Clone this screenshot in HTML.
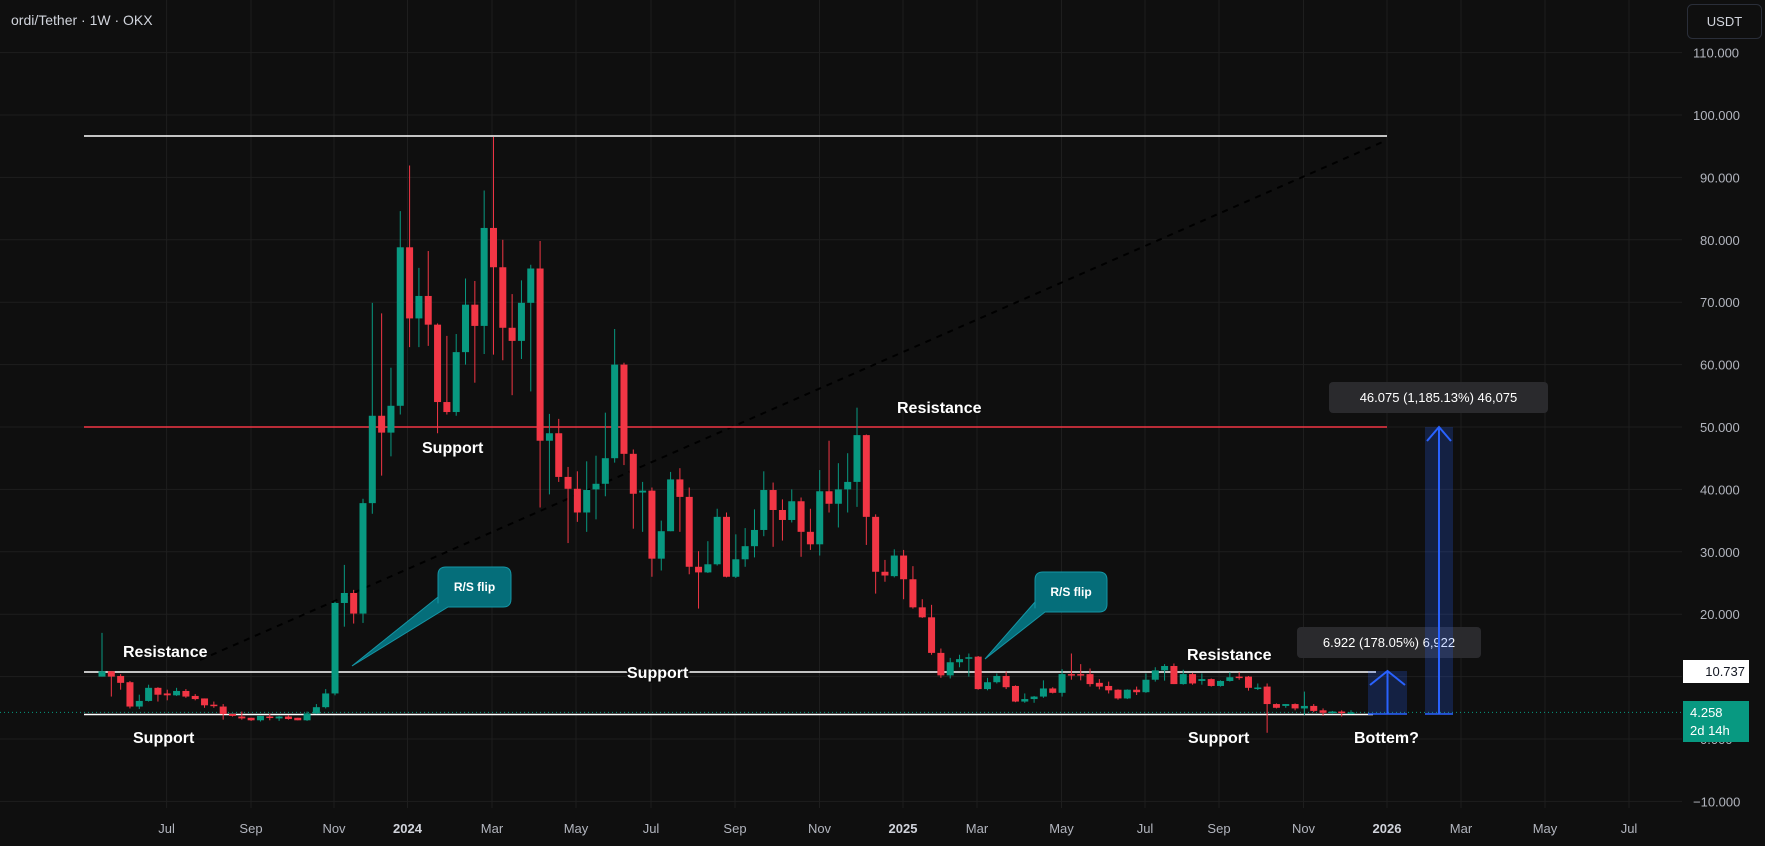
<!DOCTYPE html>
<html><head><meta charset="utf-8"><style>
html,body{margin:0;padding:0;background:#0f0f0f;width:1765px;height:846px;overflow:hidden}
svg{display:block}
text{font-family:"Liberation Sans",sans-serif}
</style></head><body>
<svg id="c" width="1765" height="846" viewBox="0 0 1765 846" xmlns="http://www.w3.org/2000/svg">
<rect width="1765" height="846" fill="#0f0f0f"/>
<g id="grid" stroke="#1e1e1e" stroke-width="1"></g>
<g id="lines"></g>
<g id="candles"></g>
<g id="ann"></g>
<text x="11" y="25" fill="#d1d4dc" font-size="14">ordi/Tether · 1W · OKX</text>
<g id="yax" fill="#b2b5be" font-size="13"></g>
<g id="xax" fill="#b2b5be" font-size="13" text-anchor="middle"></g>
<rect x="1687.5" y="4.5" width="74" height="34" rx="5" fill="#0f0f0f" stroke="#2a2e39"/>
<text x="1724.5" y="26" fill="#d1d4dc" font-size="13" text-anchor="middle">USDT</text>
<rect x="1683" y="660" width="66" height="23" fill="#ffffff"/>
<text x="1745" y="676" fill="#131722" font-size="13" text-anchor="end">10.737</text>
<rect x="1683" y="701" width="66" height="41" fill="#089981"/>
<text x="1690" y="717" fill="#ffffff" font-size="13">4.258</text>
<text x="1690" y="735" fill="#ffffff" font-size="13">2d 14h</text>
</svg>
<script>
var NS="http://www.w3.org/2000/svg";
function el(p,t,a,txt){var e=document.createElementNS(NS,t);for(var k in a)e.setAttribute(k,a[k]);if(txt!=null)e.textContent=txt;document.getElementById(p).appendChild(e);return e;}
function Y(v){return 739-6.24*v;}
// grid + y labels
for(var v=110;v>=-10;v-=10){var y=Y(v);el('grid','line',{x1:0,x2:1682,y1:y,y2:y});
 if(v!==10&&v!==0){el('yax','text',{x:v<0?1693:(v>=100?1693:1700),y:y+5},(v<0?'\u221210':v)+'.000');}}
el('yax','text',{x:1700,y:Y(0)+5,fill:'#b2b5be'},'0.000');
var xl=[[166.6,'Jul'],[251,'Sep'],[334,'Nov'],[407.5,'2024',1],[492,'Mar'],[576,'May'],[651,'Jul'],[735,'Sep'],[819.5,'Nov'],[903,'2025',1],[977,'Mar'],[1061.5,'May'],[1145,'Jul'],[1219,'Sep'],[1303.5,'Nov'],[1387,'2026',1],[1461,'Mar'],[1545,'May'],[1629,'Jul']];
xl.forEach(function(a){el('grid','line',{x1:a[0],x2:a[0],y1:0,y2:808});var t=el('xax','text',{x:a[0],y:833},a[1]);if(a[2]){t.setAttribute('font-weight','bold');t.setAttribute('fill','#d1d4dc');}});
// lines
el('lines','line',{x1:200,y1:660,x2:1387,y2:140,stroke:'#000',"stroke-width":2,"stroke-dasharray":"6 6"});
el('lines','line',{x1:84,x2:1387,y1:136,y2:136,stroke:'#ffffff',"stroke-width":1.5});
el('lines','line',{x1:84,x2:1387,y1:427,y2:427,stroke:'#f23645',"stroke-width":1.5});
el('lines','line',{x1:84,x2:1376,y1:672,y2:672,stroke:'#ffffff',"stroke-width":1.5});
el('lines','line',{x1:84,x2:1373,y1:714.5,y2:714.5,stroke:'#ffffff',"stroke-width":1.5});
el('lines','line',{x1:0,x2:1682,y1:712.4,y2:712.4,stroke:'#089981',"stroke-width":1,"stroke-dasharray":"1 3"});
var d=[[10.0,17,10.0,10.85],[10.85,10.9,6.8,10.0],[10.1,10.4,7.9,9.0],[9.1,9.3,4.9,5.2],[5.2,7.1,4.8,6.1],[6.1,8.7,6.0,8.2],[8.2,8.3,6.0,7.1],[7.3,7.9,6.2,7.0],[7.0,8.2,6.9,7.7],[7.7,8.0,6.6,6.8],[6.9,7.2,6.2,6.4],[6.5,6.5,5.0,5.4],[5.5,6.0,5.0,5.3],[5.2,5.6,3.1,4.0],[4.0,4.0,3.6,3.7],[3.6,4.4,3.1,3.3],[3.4,3.4,2.9,3.0],[3.0,3.7,2.8,3.7],[3.6,4.0,3.0,3.4],[3.3,3.7,2.9,3.6],[3.6,3.8,3.1,3.2],[3.4,3.4,3.0,3.0],[3.0,4.4,2.9,4.1],[4.1,5.6,4.0,5.1],[5.1,8.0,4.9,7.3],[7.3,22,7.0,21.8],[21.8,27.9,18,23.4],[23.4,23.9,18.5,20.1],[20.1,38.5,18.6,37.8],[37.8,69.9,36.1,51.8],[51.8,68.2,42.2,49.1],[49.1,59.5,45.3,53.4],[53.4,84.6,52,78.8],[78.8,91.9,62.8,67.4],[67.4,75.5,62.8,71.0],[71.0,78.2,63.0,66.4],[66.4,66.6,49.0,54.0],[54.0,64.6,52,52.4],[52.4,64.9,51.8,62.0],[62.0,73.8,60,69.6],[69.6,73.4,57.1,66.2],[66.2,87.9,61.7,81.9],[81.9,96.5,61.6,75.6],[75.6,80,60.7,65.9],[65.9,71.3,55.1,63.8],[63.8,73.5,60.9,69.9],[69.9,76,55.7,75.4],[75.4,79.8,37.1,47.8],[47.8,52.1,39.2,49.0],[49.0,51.3,41.2,42.0],[42.0,43.6,31.4,40.1],[40.1,42.9,34.8,36.3],[36.3,44.5,33.2,39.9],[40.0,45.4,35.2,40.9],[40.9,52.3,38.9,45.0],[45,65.7,44.3,60.0],[60,60.3,43.9,45.7],[45.7,46.4,33.7,39.3],[39.5,41.2,33.2,39.8],[39.8,40.3,26.0,28.9],[28.9,35.0,27.0,33.3],[33.3,42.8,33.3,41.6],[41.6,43.4,33.2,38.8],[38.8,40.3,26.4,27.6],[27.6,30.1,20.9,26.7],[26.7,31.7,26.6,28.0],[28,36.9,27.8,35.6],[35.6,36.3,25.9,26.0],[26.0,32.8,25.8,28.8],[28.8,33.8,27.6,30.9],[30.9,36.8,29.1,33.5],[33.5,42.9,32.5,39.9],[39.9,41.1,30.8,36.7],[36.7,38.4,31.8,35.1],[35.1,40.0,34.7,38.1],[38.1,38.7,29.2,33.2],[33.2,36.9,30.3,31.2],[31.2,43.1,29.4,39.7],[39.7,47.8,36.3,37.7],[37.7,44.2,33.9,40.0],[40.0,45.8,36.3,41.2],[41.2,53.1,37.2,48.7],[48.7,48.8,31.1,35.6],[35.6,36,23.3,26.8],[26.8,28.7,25.2,26.2],[26.1,30.4,25.9,29.4],[29.4,30.3,22.4,25.6],[25.6,27.7,20.9,21.1],[21.1,22.4,19.4,19.5],[19.5,21.5,13.5,13.8],[13.8,14.5,9.8,10.2],[10.2,13,9.7,12.3],[12.3,13.5,11.5,12.8],[12.9,13.7,10.0,13.1],[13.2,13.3,7.9,8.0],[8.0,9.8,7.8,9.1],[9.1,10.5,8.9,10.1],[10.1,10.8,8.0,8.3],[8.5,8.6,5.9,6.0],[6.0,7.3,5.8,6.4],[6.4,6.9,5.8,6.8],[6.8,9.4,6.6,8.1],[8.1,8.3,7.3,7.4],[7.4,11.2,6.8,10.4],[10.4,13.7,9.5,10.3],[10.4,12.0,9.4,10.3],[10.4,11.3,8.4,8.8],[9.0,9.6,7.96,8.4],[8.5,9.2,7.3,7.8],[7.9,7.96,6.3,6.5],[6.5,7.96,6.4,7.9],[7.9,8.4,7.05,7.5],[7.5,10.5,7.4,9.5],[9.5,11.5,9.2,11.0],[11.0,12.0,9.35,11.7],[11.7,12.1,8.8,8.8],[8.8,11.1,8.7,10.4],[10.4,10.6,8.7,8.9],[9.3,10.5,8.7,9.6],[9.6,9.7,8.4,8.5],[8.5,9.4,8.4,9.3],[9.3,10.7,9.2,9.9],[10.0,10.7,9.5,9.8],[10.0,10.1,7.75,8.2],[8.2,8.9,7.85,8.25],[8.4,8.9,1.0,5.6],[5.6,5.7,4.9,5.0],[5.3,5.6,5.0,5.6],[5.6,5.7,4.6,4.9],[4.9,7.6,3.85,5.3],[5.3,5.6,4.3,4.5],[4.6,4.9,3.7,4.2],[4.2,4.5,4.0,4.4],[4.4,4.6,3.6,4.2],[4.1,4.6,4.0,4.258]];
d.forEach(function(c,i){var x=102+9.321*i;var up=c[3]>=c[0];var col=up?'#089981':'#f23645';
 el('candles','line',{x1:x,x2:x,y1:Y(c[1]),y2:Y(c[2]),stroke:col,"stroke-width":1});
 var t=Y(Math.max(c[0],c[3])),b=Y(Math.min(c[0],c[3]));if(b-t<1.5){b=t+1.5;}
 el('candles','rect',{x:x-3.5,y:t,width:7,height:b-t,fill:col});});
// annotations
function lab(x,y,s){el('ann','text',{x:x,y:y,fill:'#ffffff',"font-size":16,"font-weight":"bold",stroke:'#0f0f0f',"stroke-width":3,"paint-order":"stroke"},s);}
lab(123,657,'Resistance');lab(133,743,'Support');lab(422,453,'Support');lab(897,413,'Resistance');
lab(627,678,'Support');lab(1187,660,'Resistance');lab(1188,743,'Support');lab(1354,743,'Bottem?');
// callouts
function call(bx,by,bw,bh,tx,ty,p1,p2){
 el('ann','path',{d:'M'+(bx+8)+' '+by+' H'+(bx+bw-8)+' Q'+(bx+bw)+' '+by+' '+(bx+bw)+' '+(by+8)+' V'+(by+bh-8)+' Q'+(bx+bw)+' '+(by+bh)+' '+(bx+bw-8)+' '+(by+bh)+' H'+p2+' L'+tx+' '+ty+' L'+p1+' '+(by+bh-10)+' V'+(by+bh-8)+' Q'+bx+' '+(by+bh)+' '+bx+' '+(by+bh-8)+' V'+(by+8)+' Q'+bx+' '+by+' '+(bx+8)+' '+by+' Z',fill:'#056e7a',stroke:'#1596a6',"stroke-width":1});
 el('ann','text',{x:bx+bw/2,y:by+bh/2+4,fill:'#ffffff',"font-size":12,"font-weight":"bold","text-anchor":"middle"},'R/S flip');}
call(438,567,73,40,352,666,438,448);
call(1035,572,72,40,985,659,1035,1045);
// measures
function meas(x,w,yt,yb,lx,lw,ly,s){
 el('ann','rect',{x:x,y:yt,width:w,height:yb-yt,fill:'rgba(41,98,255,0.22)'});
 var cx=x+w/2;el('ann','line',{x1:cx,x2:cx,y1:yb,y2:yt,stroke:'#2962ff',"stroke-width":2});
 el('ann','path',{d:'M'+(x+2)+' '+(yt+14)+' L'+cx+' '+yt+' L'+(x+w-2)+' '+(yt+14),stroke:'#2962ff',"stroke-width":2,fill:'none'});
 el('ann','line',{x1:x,x2:x+w,y1:yb,y2:yb,stroke:'#2962ff',"stroke-width":1.5});
 el('ann','rect',{x:lx,y:ly,width:lw,height:31,rx:4,fill:'#2a2a2d'});
 el('ann','text',{x:lx+lw/2,y:ly+20,fill:'#ffffff',"font-size":13,"text-anchor":"middle"},s);}
meas(1368,39,671,714,1297,184,627,'6.922 (178.05%) 6,922');
meas(1425,28,427,714,1329,219,382,'46.075 (1,185.13%) 46,075');
</script>
</body></html>
